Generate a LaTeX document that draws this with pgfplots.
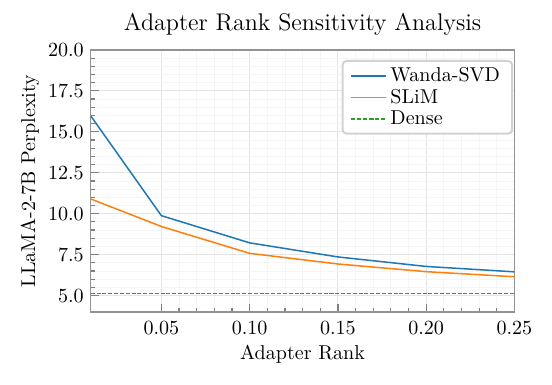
\documentclass[border=0pt]{standalone}
\usepackage{pgfplots}
\pgfplotsset{compat=1.18}
\definecolor{tabblue}{HTML}{1F77B4}
\definecolor{taborange}{HTML}{FF7F0E}
\definecolor{tabgreen}{HTML}{2CA02C}
\begin{document}
\begin{tikzpicture}
\begin{axis}[
  scale only axis,
  width=211pt, height=130.5pt,
  xmin=0.01, xmax=0.25, ymin=4, ymax=20,
  xtick={0.05,0.10,0.15,0.20,0.25},
  xticklabels={0.05,0.10,0.15,0.20,0.25},
  ytick={5,7.5,10,12.5,15,17.5,20},
  yticklabel style={/pgf/number format/.cd,fixed,fixed zerofill,precision=1},
  minor x tick num=4, minor y tick num=4,
  tick align=inside,
  xtick pos=bottom, ytick pos=left,
  major tick length=4pt, minor tick length=2pt,
  every tick/.style={gray, line width=0.6pt},
  axis line style={gray!85, line width=0.7pt},
  grid=both,
  major grid style={gray!20, line width=0.5pt},
  minor grid style={gray!8, line width=0.4pt},
  tick label style={font=\normalsize},
  xticklabel style={yshift=-1pt},
  title={Adapter Rank Sensitivity Analysis},
  title style={font=\large, yshift=-2.5pt},
  xlabel={Adapter Rank},
  ylabel={LLaMA-2-7B Perplexity},
  xlabel style={yshift=2pt},
  ylabel style={yshift=-2.5pt},
  label style={font=\normalsize},
  legend cell align=left,
  legend style={at={(0.997,0.962)}, anchor=north east, font=\normalsize, draw=gray!35, rounded corners=2pt, line width=1pt, fill=white, inner xsep=4pt, inner ysep=1.2pt, row sep=-1.8pt},
]
\addplot[tabblue, line width=0.75pt] coordinates {(0.01,15.97) (0.05,9.88) (0.10,8.22) (0.15,7.36) (0.20,6.78) (0.25,6.45)};
\addlegendentry{Wanda-SVD}
\addplot[taborange, line width=0.75pt] coordinates {(0.01,10.9) (0.05,9.22) (0.10,7.58) (0.15,6.93) (0.20,6.46) (0.25,6.15)};
\addlegendentry{SLiM}
\addplot[tabgreen, dash pattern=on 2pt off 0.9pt, line width=0.75pt] coordinates {(0.01,5.12) (0.25,5.12)};
\addlegendentry{Dense}
\end{axis}
\path (current bounding box.south west) ++(-7pt,-7.5pt) coordinate (padsw);
\path (padsw) circle[radius=0pt];
\path (current bounding box.north east) ++(6.5pt,3.5pt) coordinate (padne);
\path (padne) circle[radius=0pt];
\end{tikzpicture}
\end{document}
